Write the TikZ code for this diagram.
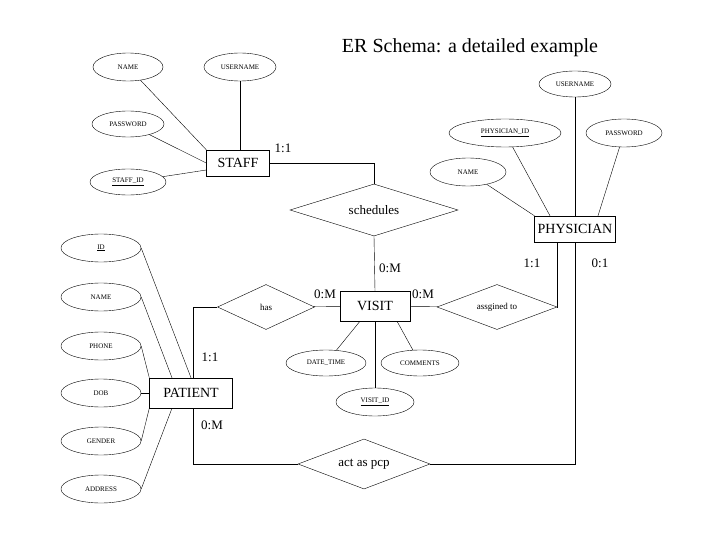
\documentclass[tikz,border=0pt]{standalone}
\usepackage{fontspec}
\setmainfont{Liberation Serif}
\usetikzlibrary{positioning, shapes.geometric}

\tikzset{
  attr/.style={ellipse, draw, inner sep=0pt, font=\fontsize{7}{8}\selectfont},
  ent/.style={rectangle, draw, inner sep=3pt, font=\fontsize{14}{16}\selectfont},
  rel/.style={diamond, draw, aspect=2.6, inner sep=0pt},
  card/.style={font=\fontsize{13}{15}\selectfont}
}

\begin{document}
\begin{tikzpicture}[x=1pt, y=-1pt]
    \useasboundingbox (0,0) rectangle (720,540);
    \node (title) at (470,48) {\fontsize{20}{24}\selectfont ER Schema: a detailed example};

    % staff
    \node (staff) [ent, minimum width=63pt, minimum height=26pt] at (238,163) {STAFF};
    \node (sname) [attr, minimum width=70pt, minimum height=28pt] at (128,67) {NAME};
    \node (suser) [attr, minimum width=72pt, minimum height=28pt] at (240,67) {USERNAME};
    \node (spass) [attr, minimum width=72pt, minimum height=26pt] at (128,124) {PASSWORD};
    \node (sid) [attr, minimum width=76pt, minimum height=26pt] at (128,182) {\underline{STAFF\_ID}};
    \draw (sname) -- (staff.north west);
    \draw (suser) -- (suser |- staff.north);
    \draw (spass) -- (staff.west);
    \draw (sid) -- (staff.west |- 0,170);

    % physician
    \node (phys) [ent, minimum width=78pt, minimum height=26pt] at (575,229) {PHYSICIAN};
    \node (puser) [attr, minimum width=72pt, minimum height=26pt] at (575,84) {USERNAME};
    \node (pid) [attr, minimum width=112pt, minimum height=28pt] at (505,133) {\underline{PHYSICIAN\_ID}};
    \node (ppass) [attr, minimum width=76pt, minimum height=28pt] at (624,133) {PASSWORD};
    \node (pname) [attr, minimum width=76pt, minimum height=28pt] at (468,172) {NAME};
    \draw (puser) -- (phys);
    \draw (pid) -- (phys.north -| 550,0);
    \draw (ppass) -- (phys.north -| 598,0);
    \draw (pname) -- (phys.north west);

    % visit
    \node (visit) [ent, minimum width=70pt, minimum height=30pt] at (375,306) {VISIT};
    \node (dt) [attr, minimum width=80pt, minimum height=26pt] at (326,363) {DATE\_TIME};
    \node (comm) [attr, minimum width=78pt, minimum height=26pt] at (420,363) {COMMENTS};
    \node (vid) [attr, minimum width=78pt, minimum height=28pt] at (375,402) {\underline{VISIT\_ID}};
    \draw (dt) -- (visit.south -| 360,0);
    \draw (comm) -- (visit.south -| 397,0);
    \draw (vid) -- (visit);

    % patient
    \node (pat) [ent, minimum width=83pt, minimum height=30pt] at (191,393) {PATIENT};
    \foreach \n/\t/\y in {pid2/\underline{ID}/248, pnm/NAME/297, pph/PHONE/346, pdob/DOB/393, pgen/GENDER/441, padr/ADDRESS/489}
      \node (\n) [attr, minimum width=80pt, minimum height=28pt] at (101,\y) {\t};
    \draw (pid2.east) -- (pat.north);
    \draw (pnm.east) -- (pat.north -| 172,0);
    \draw (pph.east) -- (pat.north west);
    \draw (pdob) -- (pat);
    \draw (pgen.east) -- (pat.south west);
    \draw (padr.east) -- (pat.south -| 172,0);

    % relationships
    \node (sched) [rel, minimum width=168pt, minimum height=52pt, font=\fontsize{13}{15}\selectfont] at (374,210) {schedules};
    \node (has) [rel, minimum width=97pt, minimum height=45pt, font=\fontsize{9}{10}\selectfont] at (266,307) {has};
    \node (asg) [rel, minimum width=120pt, minimum height=45pt, font=\fontsize{9}{10}\selectfont] at (497,307) {assgined to};
    \node (pcp) [rel, minimum width=132pt, minimum height=50pt, font=\fontsize{13}{15}\selectfont] at (364,464) {act as pcp};

    \draw (staff.east) -| (sched.north);
    \draw (sched.south) -- (visit.north);
    \draw (has) -- (visit);
    \draw (visit) -- (asg);
    \draw (asg.east) -| (phys.south -| 557,0);
    \draw (pat.north -| 193,0) |- (has.west);
    \draw (pat.south -| 193,0) |- (pcp.west);
    \draw (pcp.east) -| (phys.south);

    % cardinalities
    \node (c1) [card] at (283,148) {1:1};
    \node (c2) [card] at (390,268) {0:M};
    \node (c3) [card] at (532,263) {1:1};
    \node (c4) [card] at (600,263) {0:1};
    \node (c5) [card] at (325,294) {0:M};
    \node (c6) [card] at (423,294) {0:M};
    \node (c7) [card] at (210,357) {1:1};
    \node (c8) [card] at (212,425) {0:M};
\end{tikzpicture}
\end{document}
